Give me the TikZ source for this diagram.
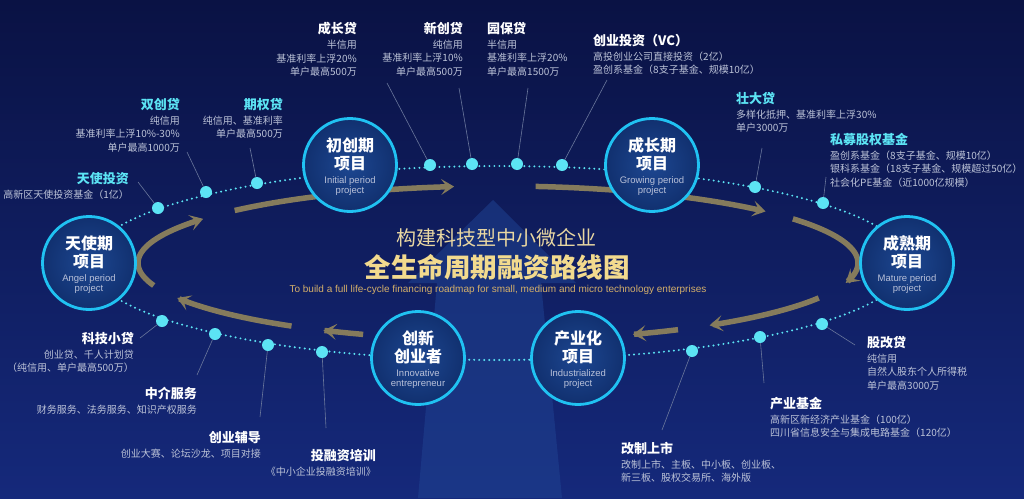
\documentclass[tikz,border=0pt]{standalone}
\usepackage{fontspec}
\setmainfont{Liberation Sans}
\newfontfamily\cjk{Noto Sans CJK SC}
\usepackage{tikz}
\usetikzlibrary{arrows.meta}

\definecolor{bgtop}{HTML}{0A1244}
\definecolor{bgbot}{HTML}{15297B}
\definecolor{beam}{HTML}{1F4291}
\definecolor{ringcyan}{HTML}{20C2F2}
\definecolor{dotcyan}{HTML}{5CE4F4}
\definecolor{flowtan}{HTML}{857B5C}
\definecolor{descgray}{HTML}{BCC3D8}
\definecolor{leadgray}{HTML}{6A779C}
\definecolor{goldlight}{HTML}{E9D7A2}
\definecolor{goldbold}{HTML}{F2DA8E}
\definecolor{goldeng}{HTML}{D4AF6A}
\definecolor{stagein}{HTML}{1D4791}
\definecolor{stageout}{HTML}{11306F}
\definecolor{engray}{HTML}{B9C1D9}

\tikzset{stage/.style={circle,draw=ringcyan,line width=2.8pt,minimum size=93pt,
    inner sep=0pt,inner color=stagein,outer color=stageout},
    stagecn/.style={align=center,text=white,inner sep=0pt,
    font=\cjk\bfseries\fontsize{16}{18}\selectfont},
    stageen/.style={align=center,text=engray,inner sep=0pt,
    font=\fontsize{9.5}{10}\selectfont},
    spot/.style={circle,fill=dotcyan,minimum size=12pt,inner sep=0pt},
    leader/.style={draw=leadgray,line width=0.6pt},
    orbit/.style={draw=dotcyan,line width=2.2pt,dash pattern=on 0pt off 5pt,line cap=round},
    info/.style={text=descgray,inner sep=0pt,font=\cjk\fontsize{10}{13.5}\selectfont},
    flow/.style={draw=flowtan,line width=5.5pt,-{Stealth[length=13pt,width=16pt,inset=6pt]}}}

\newcommand{\infohead}[1]{{\color{white}\fontsize{13}{15}\selectfont\bfseries #1}}
\newcommand{\infoheadc}[1]{{\color{dotcyan}\fontsize{13}{15}\selectfont\bfseries #1}}

\begin{document}
\begin{tikzpicture}[x=1pt, y=-1pt]

  % Background and the faint arrow in the middle
  \useasboundingbox (0,0) rectangle (1024,498);
  \shade[top color=bgtop, bottom color=bgbot] (0,0) rectangle (1024,498);
  \fill[beam, opacity=0.55] (493,200) -- (576,283) -- (541,283) -- (562,498)
      -- (418,498) -- (437,283) -- (408,283) -- cycle;

  % Flow arrows round the cycle
  \foreach \ta/\tb in {163/215, 223/263, 276/318, 325/375,
                       387/414, 420/428, 472/479, 485/513}
    \draw[flow] plot[domain=\ta:\tb, samples=40, variable=\ang]
        ({498+360*cos(\ang)}, {263+77*sin(\ang)});

  % Dotted orbit
  \draw[orbit] (498,263) ellipse [x radius=409, y radius=97];

  % Spots on the orbit
  \foreach \pos/\name in {{(158,208)/ts}, {(206,192)/sc}, {(257,183)/qq},
                          {(430,165)/cz}, {(472,164)/xc}, {(517,164)/yb},
                          {(562,165)/cy}, {(755,187)/zd}, {(823,203)/sm},
                          {(822,324)/gg}, {(760,337)/cj}, {(692,351)/gz},
                          {(162,321)/kj}, {(215,334)/zj}, {(268,345)/fd},
                          {(322,352)/tr}}
    \node[spot] (\name) at \pos {};

  % Leader lines from the spots
  \foreach \x/\y/\name in {138/182/ts, 187/152/sc, 250/148/qq,
                           387/83/cz, 459/88/xc, 528/88/yb,
                           607/80/cy, 762/148/zd, 826/177/sm,
                           855/345/gg, 764/383/cj, 662/430/gz,
                           140/338/kj, 197/375/zj, 260/417/fd,
                           326/428/tr}
    {
    \coordinate (lead\name) at (\x,\y);
    \draw[leader] (lead\name) -- (\name);
    }

  % Stage circles
  \foreach \pos/\name/\cn/\en in {{(89,263)/angel/{天使期\\项目}/{Angel period\\project}},
                                  {(350,165)/initial/{初创期\\项目}/{Initial period\\project}},
                                  {(652,165)/growing/{成长期\\项目}/{Growing period\\project}},
                                  {(907,263)/mature/{成熟期\\项目}/{Mature period\\project}},
                                  {(418,358)/innov/{创新\\创业者}/{Innovative\\entrepreneur}},
                                  {(578,358)/indus/{产业化\\项目}/{Industrialized\\project}}}
    {
    \node[stage] (\name) at \pos {};
    \node[stagecn] (cn\name) at ([yshift=10.5pt]\name.center) {\cn};
    \node[stageen] (en\name) at ([yshift=-21pt]\name.center) {\en};
    }

  % Title in the middle
  \node[font=\cjk\fontsize{20}{22}\selectfont, text=goldlight, inner sep=0pt] (sub) at (496,238)
      {构建科技型中小微企业};
  \node[font=\cjk\bfseries\fontsize{26.5}{28}\selectfont, text=goldbold, inner sep=0pt] (title) at (497,267)
      {全生命周期融资路线图};
  \node[font=\fontsize{10}{12}\selectfont, text=goldeng, inner sep=0pt] (eng) at (498,290)
      {To build a full life-cycle financing roadmap for small, medium and micro technology enterprises};

  % Financing labels, left side
  \node[info, anchor=north east, align=right] (tsinfo) at (129,172)
      {\infoheadc{天使投资}\\[1.5pt]高新区天使投资基金（1亿）};
  \node[info, anchor=north east, align=right] (scinfo) at (180,98)
      {\infoheadc{双创贷}\\[1.5pt]纯信用\\基准利率上浮10\%-30\%\\单户最高1000万};
  \node[info, anchor=north east, align=right] (qqinfo) at (283,98)
      {\infoheadc{期权贷}\\[1.5pt]纯信用、基准利率\\单户最高500万};
  \node[info, anchor=north east, align=right] (kjinfo) at (134,332)
      {\infohead{科技小贷}\\[1.5pt]创业贷、千人计划贷\\（纯信用、单户最高500万）};
  \node[info, anchor=north east, align=right] (zjinfo) at (197,387)
      {\infohead{中介服务}\\[1.5pt]财务服务、法务服务、知识产权服务};
  \node[info, anchor=north east, align=right] (fdinfo) at (261,431)
      {\infohead{创业辅导}\\[1.5pt]创业大赛、论坛沙龙、项目对接};
  \node[info, anchor=north east, align=right] (trinfo) at (376,449)
      {\infohead{投融资培训}\\[1.5pt]《中小企业投融资培训》};

  % Financing labels, top
  \node[info, anchor=north east, align=right] (czinfo) at (357,22)
      {\infohead{成长贷}\\[1.5pt]半信用\\基准利率上浮20\%\\单户最高500万};
  \node[info, anchor=north east, align=right] (xcinfo) at (463,22)
      {\infohead{新创贷}\\[1.5pt]纯信用\\基准利率上浮10\%\\单户最高500万};
  \node[info, anchor=north west, align=left] (ybinfo) at (487,22)
      {\infohead{园保贷}\\[1.5pt]半信用\\基准利率上浮20\%\\单户最高1500万};
  \node[info, anchor=north west, align=left] (cyinfo) at (593,34)
      {\infohead{创业投资（VC）}\\[1.5pt]高投创业公司直接投资（2亿）\\盈创系基金（8支子基金、规模10亿）};

  % Financing labels, right side
  \node[info, anchor=north west, align=left] (zdinfo) at (736,92)
      {\infoheadc{壮大贷}\\[1.5pt]多样化抵押、基准利率上浮30\%\\单户3000万};
  \node[info, anchor=north west, align=left] (sminfo) at (830,133)
      {\infoheadc{私募股权基金}\\[1.5pt]盈创系基金（8支子基金、规模10亿）\\银科系基金（18支子基金、规模超过50亿）\\社会化PE基金（近1000亿规模）};
  \node[info, anchor=north west, align=left] (gginfo) at (867,336)
      {\infohead{股改贷}\\[1.5pt]纯信用\\自然人股东个人所得税\\单户最高3000万};
  \node[info, anchor=north west, align=left] (cjinfo) at (770,397)
      {\infohead{产业基金}\\[1.5pt]高新区新经济产业基金（100亿）\\四川省信息安全与集成电路基金（120亿）};
  \node[info, anchor=north west, align=left] (gzinfo) at (621,442)
      {\infohead{改制上市}\\[1.5pt]改制上市、主板、中小板、创业板、\\新三板、股权交易所、海外版};

\end{tikzpicture}
\end{document}
